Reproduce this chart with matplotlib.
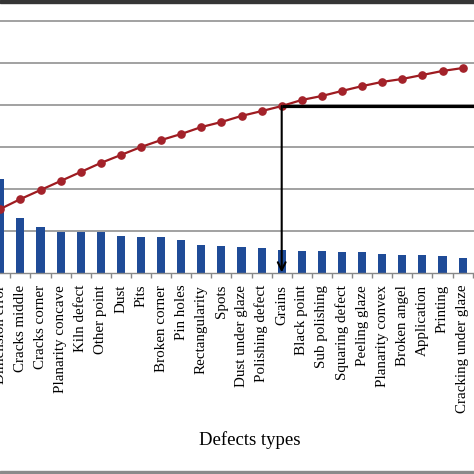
import matplotlib
matplotlib.use("Agg")
import matplotlib.pyplot as plt
from matplotlib.patches import Rectangle

categories = ["Dimension error", "Cracks middle", "Cracks corner", "Planarity concave",
              "Kiln defect", "Other point", "Dust", "Pits", "Broken corner", "Pin holes",
              "Rectangularity", "Spots", "Dust under glaze", "Polishing defect", "Grains",
              "Black point", "Sub polishing", "Squaring defect", "Peeling glaze",
              "Planarity convex", "Broken angel", "Application", "Printing",
              "Cracking under glaze"]
frequency = [44.8, 26.2, 21.9, 19.5, 19.5, 19.5, 17.6, 17.1, 17.1, 15.7, 13.3, 12.9,
             12.4, 11.9, 11.0, 10.5, 10.5, 10.0, 10.0, 9.0, 8.6, 8.6, 8.1, 7.1]
cumulative = [30.5, 35.2, 39.5, 43.8, 48.1, 52.4, 56.2, 60.0, 63.3, 66.2, 69.5, 71.9,
              74.8, 77.1, 79.5, 82.4, 84.3, 86.7, 89.0, 91.0, 92.4, 94.3, 96.2, 97.6]
threshold = 79.5
threshold_cat = "Grains"
grid_values = [20, 40, 60, 80, 100, 120]

W = H = 474
fig = plt.figure(figsize=(W / 100, H / 100), dpi=100)
ax_bottom_px = 273
ax = fig.add_axes([0, (H - ax_bottom_px) / H, 1, ax_bottom_px / H])

x = list(range(len(categories)))
ax.bar(x, frequency, width=0.4, color="#1F4B97", zorder=2)
ax.plot(x, cumulative, color="#9E1B20", lw=1.6, marker="o", markersize=5.2,
        markerfacecolor="#A3222A", markeredgecolor="#A3222A", zorder=4)

spacing = 20.1
c0 = 0.3
xl = (0 - c0) / spacing
xr = (W - c0) / spacing

for g in grid_values:
    ax.axhline(g, color="#888888", lw=1.1, zorder=1)

gi = categories.index(threshold_cat)
ax.plot([gi, xr], [threshold, threshold], color="black", lw=2.3, zorder=5,
        solid_capstyle="butt")
ax.annotate("", xy=(gi, 0.3), xytext=(gi, threshold),
            arrowprops=dict(arrowstyle="->", color="black", lw=1.5,
                            mutation_scale=14, shrinkA=0, shrinkB=0), zorder=6)

for s in ["top", "right", "left"]:
    ax.spines[s].set_visible(False)
ax.spines["bottom"].set_color("#888888")
ax.spines["bottom"].set_linewidth(1.0)
ax.set_yticks([])
ax.set_xticks(x)
ax.set_xticklabels(categories, rotation=90, family="Liberation Serif", fontsize=10.8,
                   va="top", ha="center")
ax.tick_params(axis="x", which="major", length=0, pad=8.5)
ax.set_xticks([i + 0.5 for i in range(-1, len(categories))], minor=True)
ax.tick_params(axis="x", which="minor", length=3.5, color="#888888", width=1.0,
               direction="out")
ax.set_xlim(xl, xr)
ax.set_ylim(0, 130)

fig.text(250 / W, 1 - 440 / H, "Defects types", family="Liberation Serif",
         fontsize=13.5, ha="center", va="center")

fig.patches.append(Rectangle((0, 1 - 3 / H), 1, 3 / H, transform=fig.transFigure,
                             color="#353535", zorder=10))
fig.patches.append(Rectangle((0, 0), 1, 3 / H, transform=fig.transFigure,
                             color="#8a8a8a", zorder=10))

fig.savefig("out.png", dpi=100)
